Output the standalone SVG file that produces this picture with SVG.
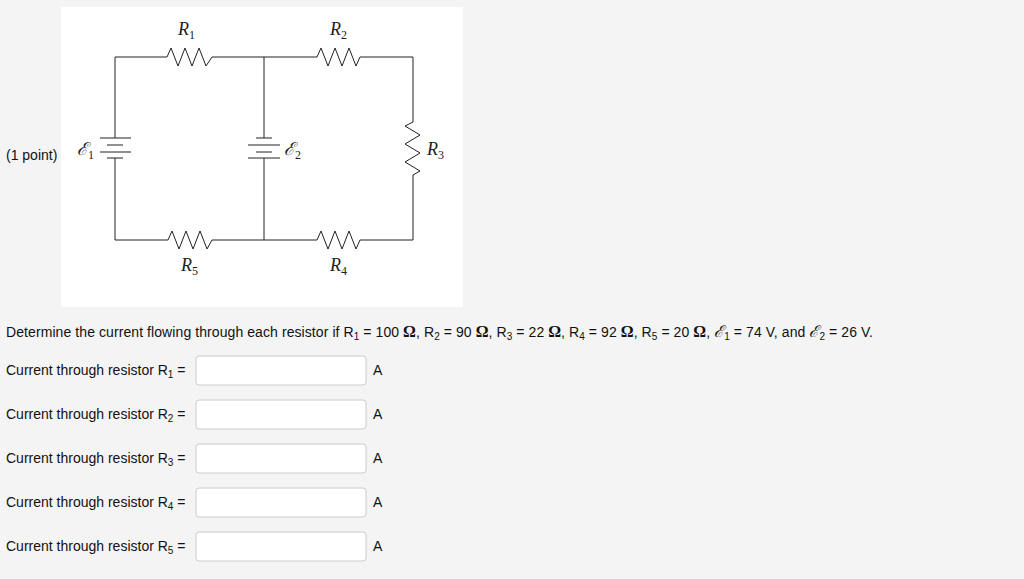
<svg xmlns="http://www.w3.org/2000/svg" width="1024" height="579" viewBox="0 0 1024 579">
<style>
.w{fill:none;stroke:#222;stroke-width:1}
.lb{font-family:"Liberation Serif",serif;font-style:italic;font-size:18px;fill:#222}
.sb{font-size:12px;font-style:normal}
.t{font-family:"Liberation Sans",Arial,sans-serif;font-size:14px;fill:#111}
.box{fill:#fff;stroke:#ccc;stroke-width:1}
</style>
<rect width="1024" height="579" fill="#f4f4f4"/>
<rect x="61" y="7" width="402" height="300" fill="#fff"/>
<g id="connectors">
<path class="w" d="M115 138V57H167M212 57H317M360 57H413V122M413 175V240H360M317 240H212M168 240H115V158M264 57V138M264 158V240"/>
</g>
<g id="R1"><path class="w" d="M167 57l4 -9l7 18l7 -18l7 18l7 -18l7 18l6 -9"/><text class="lb" x="178" y="35">R<tspan class="sb" dy="4">1</tspan></text></g>
<g id="R2"><path class="w" d="M317 57l4 -9l7 18l7 -18l7 18l7 -18l7 18l4 -9"/><text class="lb" x="330" y="35">R<tspan class="sb" dy="4">2</tspan></text></g>
<g id="R3"><path class="w" d="M413 122l-8 4l15 9l-15 9l15 9l-15 9l15 9l-7 4"/><text class="lb" x="427" y="155">R<tspan class="sb" dy="4">3</tspan></text></g>
<g id="R4"><path class="w" d="M317 240l4 -9l7 18l7 -18l7 18l7 -18l7 18l4 -9"/><text class="lb" x="330" y="271">R<tspan class="sb" dy="4">4</tspan></text></g>
<g id="R5"><path class="w" d="M168 240l4 -9l7 18l7 -18l7 18l7 -18l7 18l5 -9"/><text class="lb" x="181" y="271">R<tspan class="sb" dy="4">5</tspan></text></g>
<g id="E1"><path class="w" d="M100 138H131M107 145H123M100 152H131M107 158H123"/><text class="lb" x="77" y="155">ℰ<tspan class="sb" dy="4">1</tspan></text></g>
<g id="E2"><path class="w" d="M256 138H272M248 145H280M256 152H272M248 158H280"/><text class="lb" x="284" y="155">ℰ<tspan class="sb" dy="4">2</tspan></text></g>
<text class="t" x="6" y="160">(1 point)</text>
<text class="t" x="6" y="337" textLength="867" lengthAdjust="spacing">Determine the current flowing through each resistor if R<tspan font-size="10" dy="3">1</tspan><tspan dy="-3"> = 100 </tspan><tspan font-family="Liberation Serif" font-weight="bold" font-size="16">Ω</tspan>, R<tspan font-size="10" dy="3">2</tspan><tspan dy="-3"> = 90 </tspan><tspan font-family="Liberation Serif" font-weight="bold" font-size="16">Ω</tspan>, R<tspan font-size="10" dy="3">3</tspan><tspan dy="-3"> = 22 </tspan><tspan font-family="Liberation Serif" font-weight="bold" font-size="16">Ω</tspan>, R<tspan font-size="10" dy="3">4</tspan><tspan dy="-3"> = 92 </tspan><tspan font-family="Liberation Serif" font-weight="bold" font-size="16">Ω</tspan>, R<tspan font-size="10" dy="3">5</tspan><tspan dy="-3"> = 20 </tspan><tspan font-family="Liberation Serif" font-weight="bold" font-size="16">Ω</tspan>, <tspan font-family="Liberation Serif" font-style="italic" font-size="16">ℰ</tspan><tspan font-size="10" dy="3">1</tspan><tspan dy="-3"> = 74 V, and </tspan><tspan font-family="Liberation Serif" font-style="italic" font-size="16">ℰ</tspan><tspan font-size="10" dy="3">2</tspan><tspan dy="-3"> = 26 V.</tspan></text>
<g id="q1"><text class="t" x="6" y="375">Current through resistor R<tspan font-size="10" dy="3">1</tspan><tspan dy="-3"> =</tspan></text><rect class="box" x="196" y="356" width="170" height="29" rx="3"/><text class="t" x="373" y="375">A</text></g>
<g id="q2"><text class="t" x="6" y="419">Current through resistor R<tspan font-size="10" dy="3">2</tspan><tspan dy="-3"> =</tspan></text><rect class="box" x="196" y="400" width="170" height="29" rx="3"/><text class="t" x="373" y="419">A</text></g>
<g id="q3"><text class="t" x="6" y="463">Current through resistor R<tspan font-size="10" dy="3">3</tspan><tspan dy="-3"> =</tspan></text><rect class="box" x="196" y="444" width="170" height="29" rx="3"/><text class="t" x="373" y="463">A</text></g>
<g id="q4"><text class="t" x="6" y="507">Current through resistor R<tspan font-size="10" dy="3">4</tspan><tspan dy="-3"> =</tspan></text><rect class="box" x="196" y="488" width="170" height="29" rx="3"/><text class="t" x="373" y="507">A</text></g>
<g id="q5"><text class="t" x="6" y="551">Current through resistor R<tspan font-size="10" dy="3">5</tspan><tspan dy="-3"> =</tspan></text><rect class="box" x="196" y="532" width="170" height="29" rx="3"/><text class="t" x="373" y="551">A</text></g>
</svg>
